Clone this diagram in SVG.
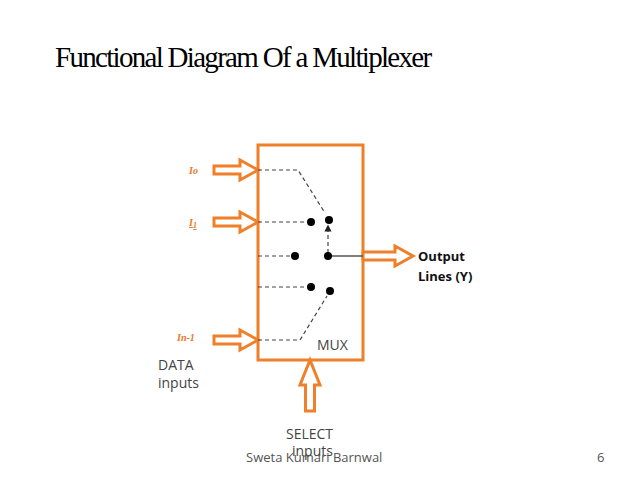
<svg xmlns="http://www.w3.org/2000/svg" width="638" height="478" viewBox="0 0 638 478">
<style>
.o{fill:#fff;stroke:#f07f2a;stroke-width:3;stroke-linejoin:miter}
.d{fill:none;stroke:#444;stroke-width:1.2;stroke-dasharray:4 3}
.lbl{font-family:"Liberation Serif",serif;font-style:italic;font-weight:bold;font-size:10px;fill:#e8782a}
.t{font-family:"Open Sans","Liberation Sans",sans-serif;font-size:14px;fill:#444}
</style>
<defs>
<marker id="ah" markerWidth="6" markerHeight="6" refX="3" refY="3" orient="auto"><path d="M0,0L6,3L0,6z" fill="#222"/></marker>
</defs>
<rect width="638" height="478" fill="#fff"/>
<text x="55" y="67" font-family="Liberation Serif,serif" font-size="29" letter-spacing="-1.7" fill="#000">Functional Diagram Of a Multiplexer</text>
<g id="mux"><rect class="o" x="258" y="145" width="105" height="215"/><text class="t" x="317" y="350" font-size="15">MUX</text></g>
<g id="inputs">
<path class="o" d="M214,166h26v-6l18,10l-18,10v-6h-26z"/>
<path class="o" d="M214,218h26v-6l18,10l-18,10v-6h-26z"/>
<path class="o" d="M214,336h26v-6l18,10l-18,10v-6h-26z"/>
<text class="lbl" x="189" y="174">Io</text>
<text class="lbl" x="189" y="226" text-decoration="underline">I<tspan font-size="8" dy="2">1</tspan></text>
<text class="lbl" x="177" y="341">In-1</text>
<text class="t" x="158" y="370">DATA</text><text class="t" x="158" y="388">inputs</text>
</g>
<g id="output">
<path class="o" d="M363,252h32v-6l18,10l-18,10v-6h-32z"/>
<text x="418" y="261" font-family="Open Sans,Liberation Sans,sans-serif" font-weight="bold" font-size="13" fill="#111">Output</text>
<text x="418" y="281" font-family="Open Sans,Liberation Sans,sans-serif" font-weight="bold" font-size="13" fill="#111">Lines  (Y)</text>
</g>
<g id="select">
<path class="o" d="M305.5,411v-26h-5.5l10,-25l10,25h-5.5v26z"/>
<text class="t" x="286" y="439">SELECT</text><text class="t" x="292" y="456">inputs</text>
</g>
<g id="connectors">
<path class="d" d="M258,170H298L325,213"/>
<path class="d" d="M258,222H308"/>
<path class="d" d="M258,256H292"/>
<path class="d" d="M258,287H308"/>
<path class="d" d="M258,340H300L327,296"/>
<path class="d" d="M328,253V228" marker-end="url(#ah)"/>
<path d="M328,256H363" stroke="#555" stroke-width="1.3"/>
<g fill="#000"><circle cx="311" cy="222" r="4"/><circle cx="329" cy="220" r="4"/><circle cx="295" cy="256" r="4"/><circle cx="328" cy="256" r="4"/><circle cx="311" cy="287" r="4"/><circle cx="330" cy="291" r="4"/></g>
</g>
<g id="footer">
<text x="246" y="462" font-family="Open Sans,Liberation Sans,sans-serif" font-size="13" fill="#555">Sweta Kumari Barnwal</text>
<text x="597" y="462" font-family="Open Sans,Liberation Sans,sans-serif" font-size="13" fill="#555">6</text>
</g>
</svg>
